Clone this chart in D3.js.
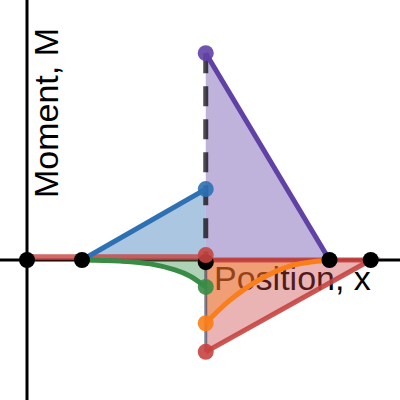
<!DOCTYPE html>
<html>
<head>
<meta charset="utf-8">
<script src="https://cdn.jsdelivr.net/npm/d3@7"></script>
<style>
  body { margin: 0; background: #fff; }
</style>
</head>
<body>
<div id="sandbox"></div>
<script>
// Data (units along the beam / moment units)
const supportX = [0, 1, 3.25, 5.5, 6.25];          // black dots on the axis
const blueTri = [[1, 0], [3.25, 1.29], [3.25, 0]];
const purpleTri = [[3.25, 3.76], [5.5, 0], [3.25, 0]];
const redTri = [[3.25, 0], [6.25, 0], [3.25, -1.67]];
const greenCurve = [[1, 0], [1.69, -0.02], [2.24, -0.07], [2.69, -0.18], [2.96, -0.29], [3.25, -0.49]];
const orangeCurve = [[3.25, -1.15], [3.69, -0.73], [4.24, -0.35], [4.78, -0.11], [5.5, 0]];
const redBase = [[0, 0.05], [3.25, 0.05]];
const dotsAtX = [
  { y: 3.76, c: "#6042a6" },
  { y: 1.29, c: "#2d70b3" },
  { y: 0.09, c: "#c74440" },
  { y: -0.49, c: "#388c46" },
  { y: -1.15, c: "#fa7e19" },
  { y: -1.67, c: "#c74440" }
];

const width = 400, height = 400;
const svg = d3.select("#sandbox").append("svg")
  .attr("width", width).attr("height", height);

const x = d3.scaleLinear().domain([0, 1]).range([27, 82]);
const y = d3.scaleLinear().domain([0, 1]).range([260, 205]);

// Axes
svg.append("line").attr("x1", 0).attr("x2", width)
  .attr("y1", y(0)).attr("y2", y(0))
  .attr("stroke", "#000").attr("stroke-width", 3);
svg.append("line").attr("x1", x(0)).attr("x2", x(0))
  .attr("y1", 0).attr("y2", height)
  .attr("stroke", "#000").attr("stroke-width", 3);

// Labels
svg.append("text")
  .attr("transform", "translate(58,198) rotate(-90)")
  .attr("font-family", "Liberation Sans, Arial, sans-serif")
  .attr("font-size", 34)
  .attr("fill", "#000")
  .text("Moment, M");
svg.append("text")
  .attr("x", 214).attr("y", 290)
  .attr("font-family", "Liberation Sans, Arial, sans-serif")
  .attr("font-size", 34)
  .attr("fill", "#000")
  .text("Position, x");

const line = d3.line().x(d => x(d[0])).y(d => y(d[1]));
const curve = d3.line().x(d => x(d[0])).y(d => y(d[1])).curve(d3.curveCatmullRom);
const area = d3.area().x(d => x(d[0])).y0(y(0)).y1(d => y(d[1])).curve(d3.curveCatmullRom);

// Fills
function tri(pts, c) {
  svg.append("path").attr("d", line(pts) + "Z")
    .attr("fill", c).attr("fill-opacity", 0.4).attr("stroke", "none");
}
tri(blueTri, "#2d70b3");
tri(purpleTri, "#6042a6");
tri(redTri, "#c74440");
svg.append("path").attr("d", area(greenCurve))
  .attr("fill", "#388c46").attr("fill-opacity", 0.4);
svg.append("path").attr("d", area(orangeCurve))
  .attr("fill", "#fa7e19").attr("fill-opacity", 0.4);

// Vertical edge below axis
svg.append("line").attr("x1", x(3.25)).attr("x2", x(3.25))
  .attr("y1", y(0)).attr("y2", y(-1.67))
  .attr("stroke", "#2a3a5a").attr("stroke-opacity", 0.6).attr("stroke-width", 3);

// Dashed vertical line
svg.append("line").attr("x1", x(3.25)).attr("x2", x(3.25))
  .attr("y1", y(3.76)).attr("y2", y(0))
  .attr("stroke", "#000").attr("stroke-opacity", 0.7)
  .attr("stroke-width", 5).attr("stroke-dasharray", "20 13");

// Outlines
svg.append("path").attr("d", line(redBase))
  .attr("fill", "none").attr("stroke", "#c74440").attr("stroke-opacity", 0.8).attr("stroke-width", 6);
svg.append("path").attr("d", line([redTri[2], redTri[1], redTri[0]]))
  .attr("fill", "none").attr("stroke", "#c74440").attr("stroke-opacity", 0.9).attr("stroke-width", 5);
svg.append("path").attr("d", line(blueTri.slice(0, 2)))
  .attr("fill", "none").attr("stroke", "#2d70b3").attr("stroke-width", 5);
svg.append("path").attr("d", line(purpleTri.slice(0, 2)))
  .attr("fill", "none").attr("stroke", "#6042a6").attr("stroke-width", 5);
svg.append("path").attr("d", curve(greenCurve))
  .attr("fill", "none").attr("stroke", "#388c46").attr("stroke-width", 5);
svg.append("path").attr("d", curve(orangeCurve))
  .attr("fill", "none").attr("stroke", "#fa7e19").attr("stroke-width", 5);

// Dots
svg.selectAll("circle.k").data(supportX).enter().append("circle")
  .attr("class", "k")
  .attr("cx", d => x(d)).attr("cy", (d, i) => i === 2 ? y(-0.04) : y(0))
  .attr("r", 8).attr("fill", "#000");
svg.selectAll("circle.c").data(dotsAtX).enter().append("circle")
  .attr("class", "c")
  .attr("cx", x(3.25)).attr("cy", d => y(d.y))
  .attr("r", 8).attr("fill", d => d.c).attr("fill-opacity", 0.9);
</script>
</body>
</html>
